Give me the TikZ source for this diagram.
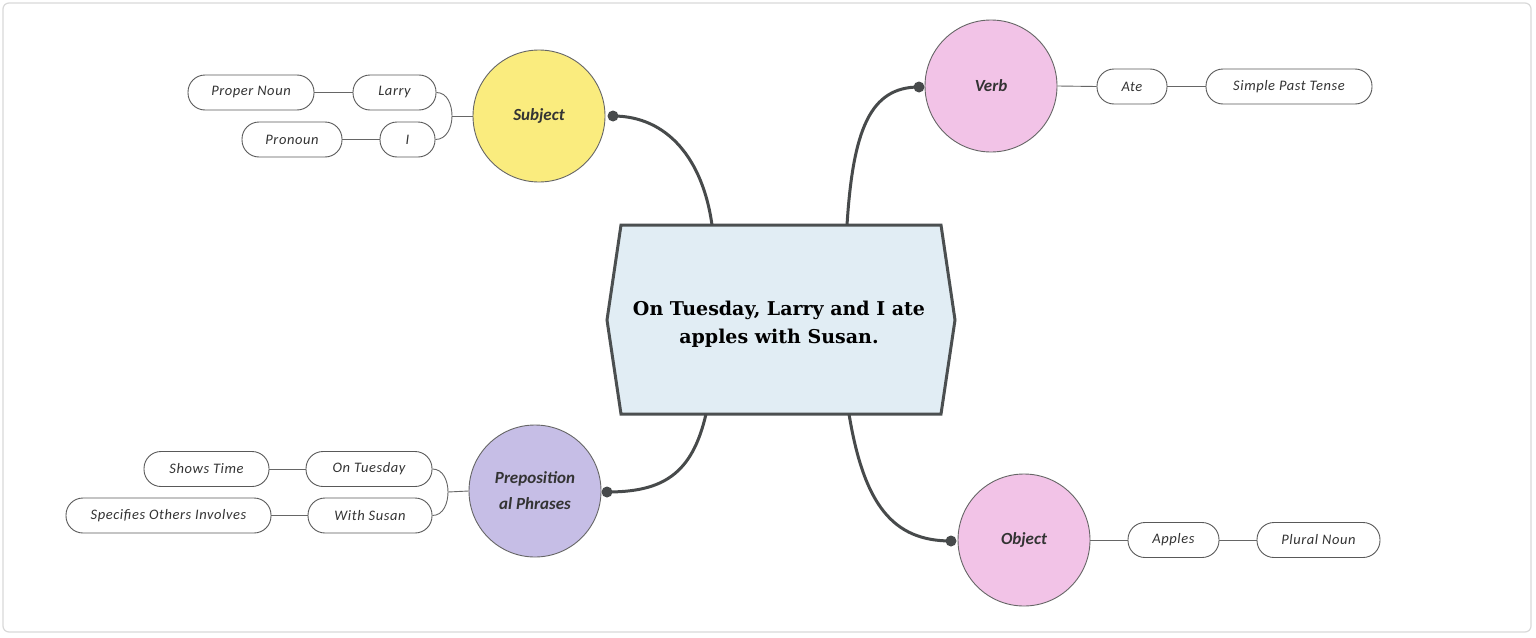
\documentclass[tikz,border=0pt]{standalone}
\usepackage{fontspec}
\setmainfont{Carlito}
\newfontfamily\slab{DejaVu Serif}
\newfontfamily\pillfont[LetterSpace=4]{Carlito}
\definecolor{hexfill}{HTML}{E1EDF4}
\definecolor{hexdraw}{HTML}{4B4F50}
\definecolor{conn}{HTML}{474A4B}
\definecolor{yel}{HTML}{FAEC7E}
\definecolor{pnk}{HTML}{F2C3E7}
\definecolor{prp}{HTML}{C6BEE6}
\definecolor{txt}{HTML}{333333}
\begin{document}
\begin{tikzpicture}[x=1pt,y=-1pt,
  topic/.style={circle,draw=black!60,line width=0.9pt,minimum size=132pt,inner sep=0pt,
    text=txt,font=\fontsize{17}{26}\selectfont\bfseries\itshape,align=center},
  pill/.style={rectangle,rounded corners=17pt,draw=black!65,line width=0.9pt,fill=white,
    minimum height=35pt,inner sep=0pt,text=txt,font=\pillfont\fontsize{14.5}{16}\selectfont\itshape},
  dotn/.style={circle,fill=conn,minimum size=11pt,inner sep=0pt},
  thick conn/.style={draw=conn,line width=3pt},
  thin conn/.style={draw=black!60,line width=0.9pt}]
\useasboundingbox (0,0) rectangle (1536,637);
\fill[white] (0,0) rectangle (1536,637);
\draw[black!15,line width=1.2pt,rounded corners=6pt] (3,3) rectangle (1531,632);

% central hexagon
\draw[hexdraw,fill=hexfill,line width=3pt,line join=miter]
  (621,225) -- (941,225) -- (955,320) -- (941,414) -- (621,414) -- (607,320) -- cycle;
\node[text=black,font=\slab\fontsize{19}{28}\selectfont\bfseries,align=center] (root) at (779,324)
  {On Tuesday, Larry and I ate\\apples with Susan.};
\coordinate (r1) at (712,225);
\coordinate (r2) at (847,225);
\coordinate (r3) at (706,414);
\coordinate (r4) at (849,414);

% topics
\node[topic,fill=yel] (subj) at (539,116) {Subject};
\node[topic,fill=pnk] (verb) at (991,86) {Verb};
\node[topic,fill=prp] (prep) at (535,491) {Preposition\\al Phrases};
\node[topic,fill=pnk] (obj) at (1024,540) {Object};

\node[dotn] (d1) at (613,116) {};
\node[dotn] (d2) at (919,87) {};
\node[dotn] (d3) at (607,492) {};
\node[dotn] (d4) at (951,541) {};

\draw[thick conn] (r1) .. controls (703,160) and (668,116) .. (d1.center);
\draw[thick conn] (r2) .. controls (853,130) and (870,87) .. (d2.center);
\draw[thick conn] (r3) .. controls (692,475) and (662,492) .. (d3.center);
\draw[thick conn] (r4) .. controls (864,505) and (893,541) .. (d4.center);

% subject branch
\node[pill,minimum width=83pt] (larry) at (394.5,92.5) {Larry};
\node[pill,minimum width=126pt] (pnoun) at (251,92.5) {Proper Noun};
\node[pill,minimum width=55pt] (ii) at (407.5,139.5) {I};
\node[pill,minimum width=100pt] (pron) at (292,139.5) {Pronoun};
\coordinate (sj) at (452,116);
\draw[thin conn] (subj.west) -- (sj);
\draw[thin conn] (larry.east) to[out=0,in=90] (sj) to[out=-90,in=0] (ii.east);
\draw[thin conn] (larry) -- (pnoun);
\draw[thin conn] (ii) -- (pron);

% verb branch
\node[pill,minimum width=70pt] (ate) at (1132,86.5) {Ate};
\node[pill,minimum width=166pt] (spt) at (1289,86.5) {Simple Past Tense};
\draw[thin conn] (verb.east) -- (ate.west);
\draw[thin conn] (ate) -- (spt);

% prepositional branch
\node[pill,minimum width=126pt] (ontue) at (369,469) {On Tuesday};
\node[pill,minimum width=125pt] (stime) at (206.5,469) {Shows Time};
\node[pill,minimum width=124pt] (wsus) at (370,515.5) {With Susan};
\node[pill,minimum width=205pt] (spec) at (168.5,515.5) {Specifies Others Involves};
\coordinate (pj) at (448,492);
\draw[thin conn] (prep.west) -- (pj);
\draw[thin conn] (ontue.east) to[out=0,in=90] (pj) to[out=-90,in=0] (wsus.east);
\draw[thin conn] (ontue) -- (stime);
\draw[thin conn] (wsus) -- (spec);

% object branch
\node[pill,minimum width=91pt] (apples) at (1173.5,540) {Apples};
\node[pill,minimum width=123pt] (plnoun) at (1318.5,540) {Plural Noun};
\draw[thin conn] (obj.east) -- (apples.west);
\draw[thin conn] (apples) -- (plnoun);
\end{tikzpicture}
\end{document}
